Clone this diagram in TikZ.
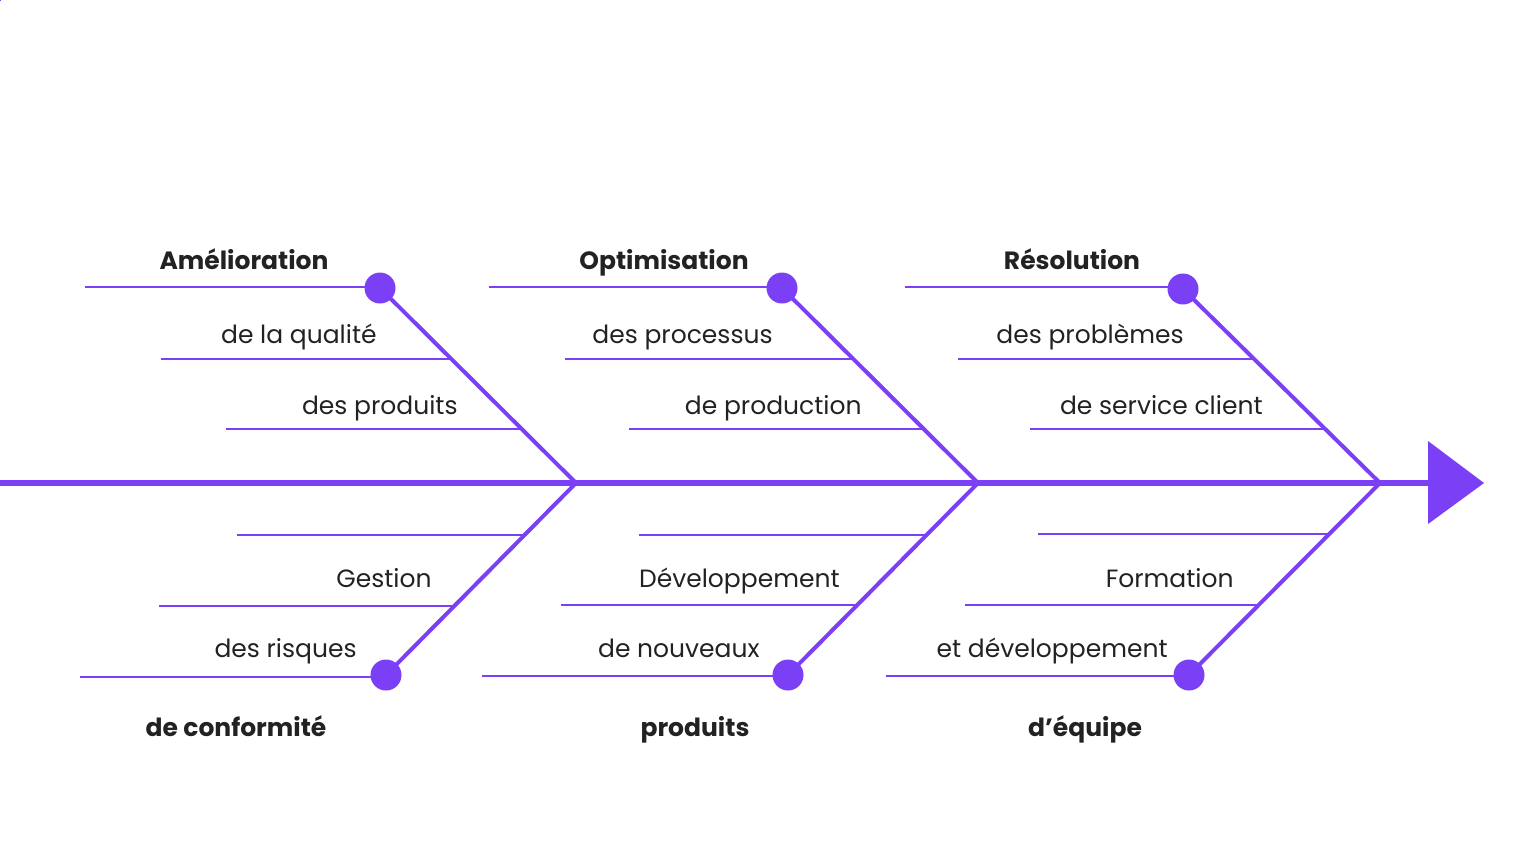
\documentclass[tikz,border=0pt]{standalone}
\usepackage{fontspec}
\setmainfont{Poppins}
\definecolor{pur}{HTML}{7B40F5}
\definecolor{ink}{HTML}{222222}
\begin{document}
\begin{tikzpicture}[x=0.5pt,y=-0.5pt,
  spine/.style={pur,line width=2.6pt},
  bone/.style={pur,line width=2pt},
  rib/.style={pur,line width=1pt},
  dot/.style={circle,fill=pur,inner sep=0pt,minimum size=15.5pt},
  lab/.style={anchor=base east,text=ink,font=\fontsize{12.5}{14}\selectfont,inner sep=0pt},
  ttl/.style={anchor=base,text=ink,font=\fontsize{12.5}{14}\selectfont\bfseries,inner sep=0pt}]
\useasboundingbox (0,0) rectangle (1536,864);
% spine
\coordinate (s0) at (0,483);
\coordinate (j1) at (576,483);
\coordinate (j2) at (978,483);
\coordinate (j3) at (1380,483);
\coordinate (sa) at (1430,483);
\draw[spine] (s0) -- (sa);
\node (head) [fill=pur,draw=none,inner sep=0pt] at (0,0) {};
\fill[pur] (1428,441) -- (1484,483) -- (1428,524) -- cycle;
% dots
\node[dot] (u1) at (380,288) {};
\node[dot] (u2) at (782,288) {};
\node[dot] (u3) at (1183,289) {};
\node[dot] (d1) at (386,675) {};
\node[dot] (d2) at (788,675) {};
\node[dot] (d3) at (1189,675) {};
\draw[bone] (u1.center) -- (j1) -- (d1.center);
\draw[bone] (u2.center) -- (j2) -- (d2.center);
\draw[bone] (u3.center) -- (j3) -- (d3.center);
% ribs
\foreach \a/\b/\y in {85/380/287,161/452/359,226/522/429,489/782/287,565/853/359,629/923/429,905/1183/287,958/1253/359,1030/1323/429,
 237/524/535,159/453/606,80/386/677,639/926/535,561/855/605,482/788/676,1038/1328/534,965/1257/605,886/1189/676}
  {\coordinate (r1) at (\a,\y); \coordinate (r2) at (\b,\y); \draw[rib] (r1) -- (r2);}
% labels
\node[ttl] (t1) at (244,269) {Amélioration};
\node[ttl] (t2) at (664,269) {Optimisation};
\node[ttl] (t3) at (1072,269) {Résolution};
\node[lab] at (377,343) {de la qualité};
\node[lab] at (458,414) {des produits};
\node[lab] at (773,343) {des processus};
\node[lab] at (862,414) {de production};
\node[lab] at (1184,343) {des problèmes};
\node[lab] at (1263,414) {de service client};
\node[lab] at (432,587) {Gestion};
\node[lab] at (357,657) {des risques};
\node[lab] at (840,587) {Développement};
\node[lab] at (760,657) {de nouveaux};
\node[lab] at (1234,587) {Formation};
\node[lab] at (1168,657) {et développement};
\node[ttl] (b1) at (236,736) {de conformité};
\node[ttl] (b2) at (695,736) {produits};
\node[ttl] (b3) at (1085,736) {d’équipe};
\end{tikzpicture}
\end{document}
